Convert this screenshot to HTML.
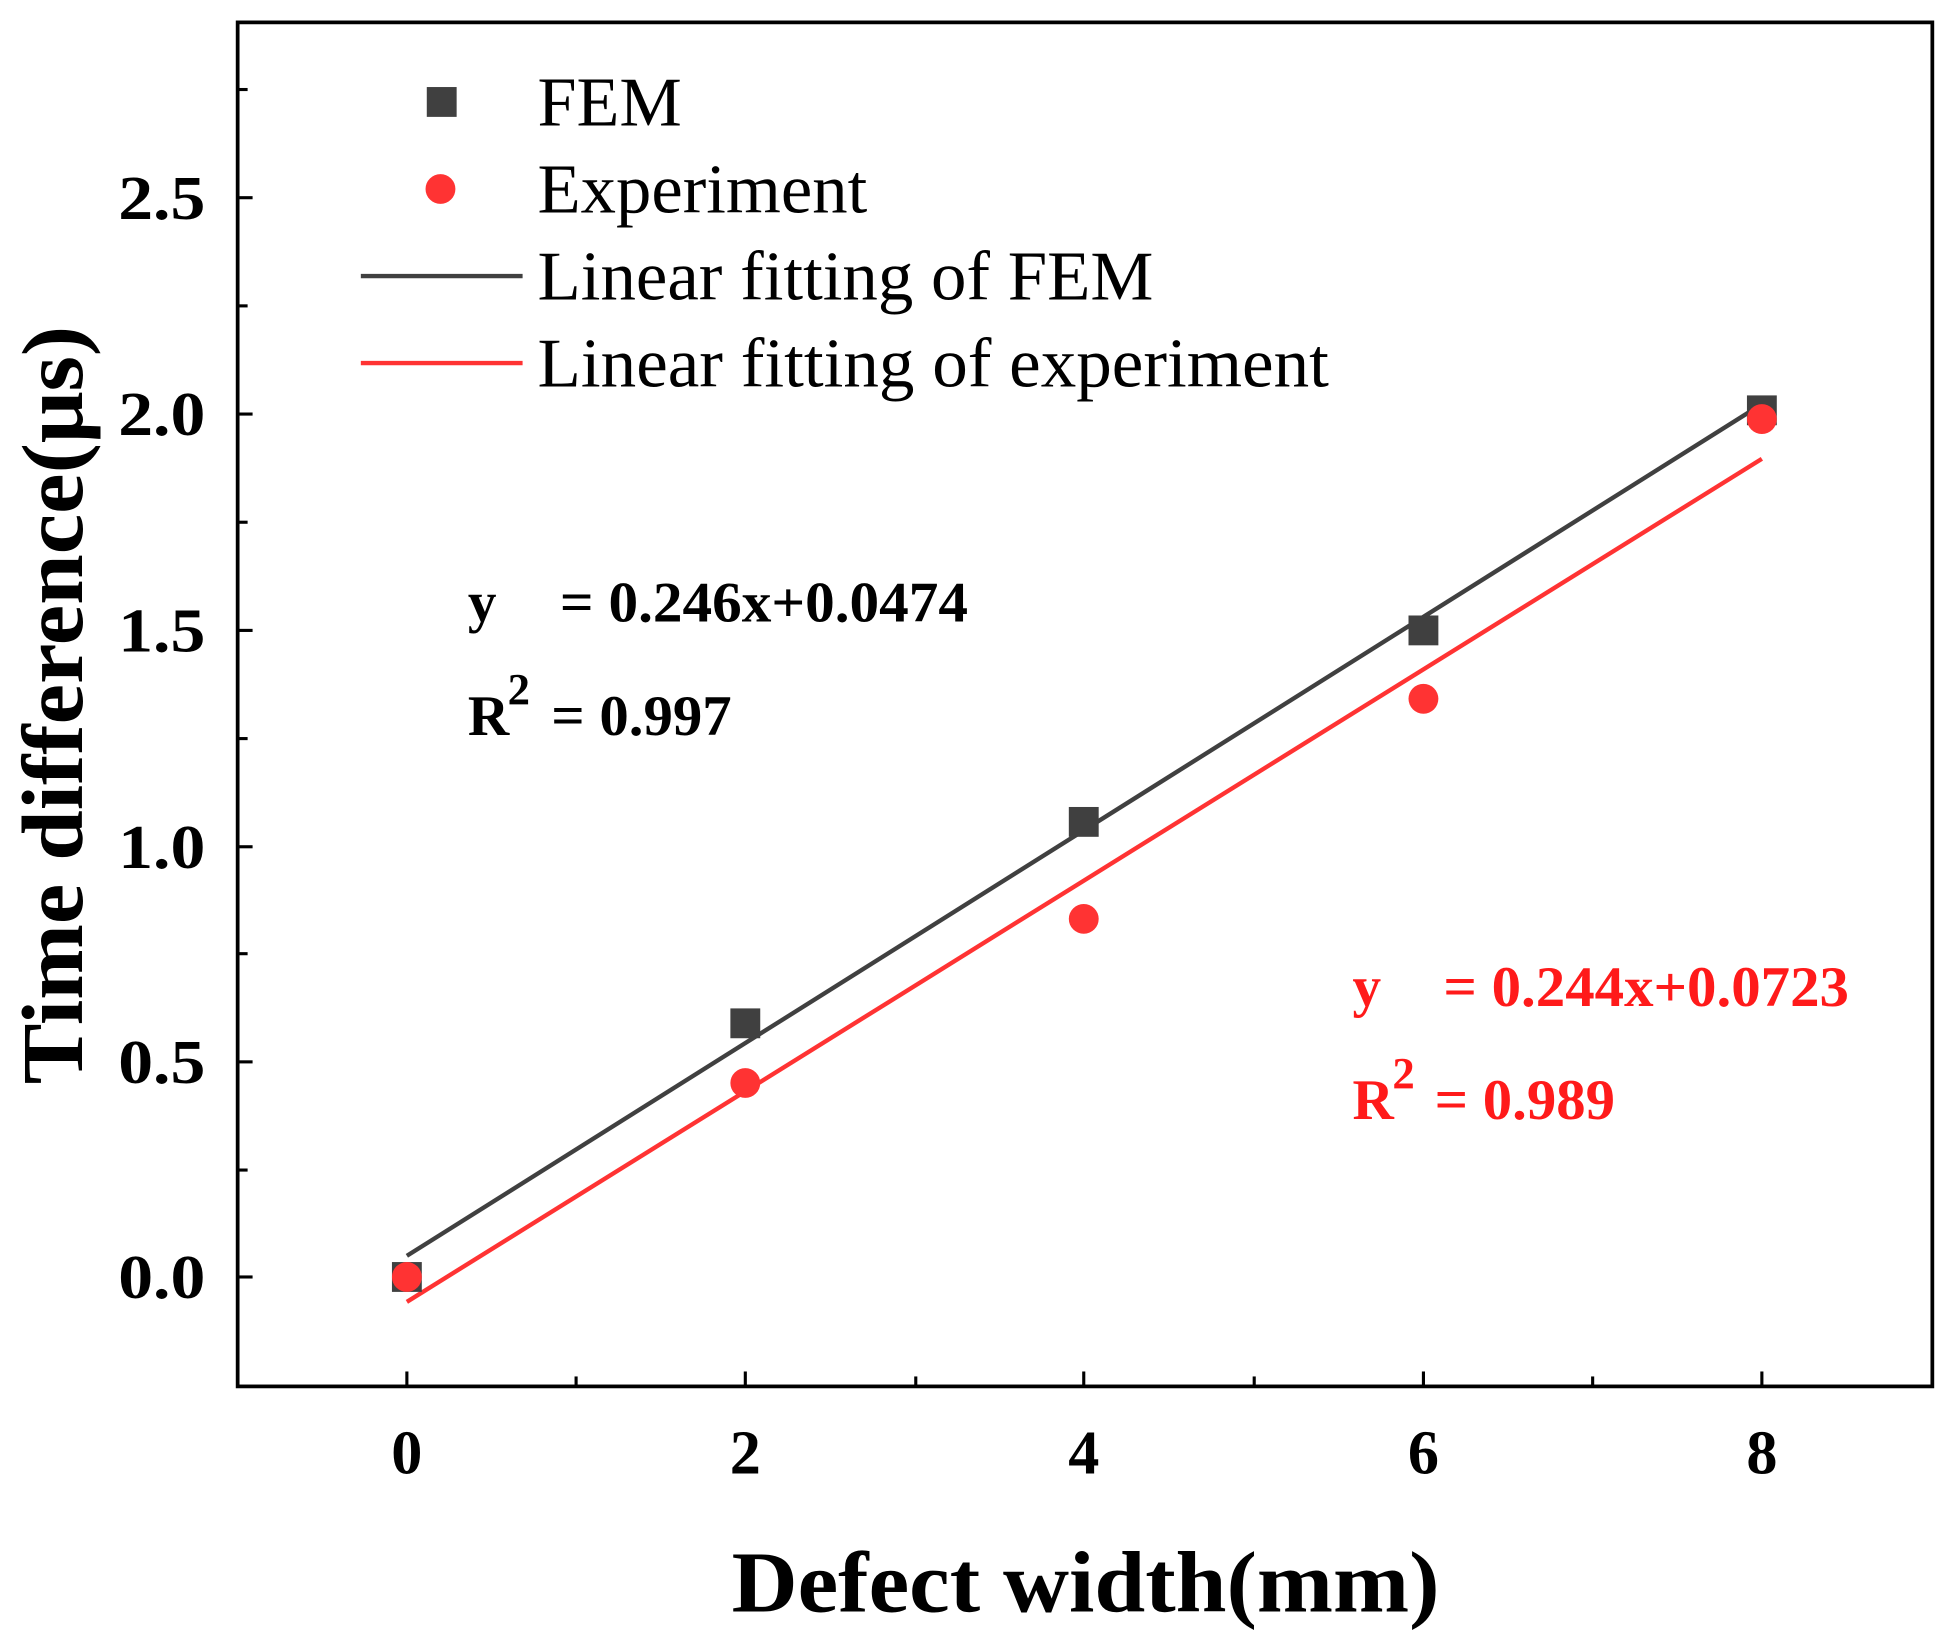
<!DOCTYPE html>
<html><head><meta charset="utf-8"><style>html,body{margin:0;padding:0;background:#fff}svg{display:block}</style></head>
<body>
<svg width="1951" height="1650" viewBox="0 0 1568 1327" preserveAspectRatio="none" xmlns="http://www.w3.org/2000/svg" font-family="Liberation Serif, serif">
<rect width="1568" height="1327" fill="#fff"/>
<rect x="191" y="18" width="1362" height="1097" fill="none" stroke="#000" stroke-width="3"/>
<g stroke="#000" stroke-width="2.5">
<line x1="327" y1="1115" x2="327" y2="1103"/><line x1="463" y1="1115" x2="463" y2="1107"/>
<line x1="599" y1="1115" x2="599" y2="1103"/><line x1="736" y1="1115" x2="736" y2="1107"/>
<line x1="871" y1="1115" x2="871" y2="1103"/><line x1="1008" y1="1115" x2="1008" y2="1107"/>
<line x1="1144" y1="1115" x2="1144" y2="1103"/><line x1="1280" y1="1115" x2="1280" y2="1107"/>
<line x1="1416" y1="1115" x2="1416" y2="1103"/>
<line x1="191" y1="1027" x2="203" y2="1027"/><line x1="191" y1="941" x2="199" y2="941"/>
<line x1="191" y1="854" x2="203" y2="854"/><line x1="191" y1="767" x2="199" y2="767"/>
<line x1="191" y1="681" x2="203" y2="681"/><line x1="191" y1="594" x2="199" y2="594"/>
<line x1="191" y1="507" x2="203" y2="507"/><line x1="191" y1="420" x2="199" y2="420"/>
<line x1="191" y1="333" x2="203" y2="333"/><line x1="191" y1="246" x2="199" y2="246"/>
<line x1="191" y1="159" x2="203" y2="159"/><line x1="191" y1="72" x2="199" y2="72"/>
</g>
<g font-weight="bold" font-size="50">
<text x="95" y="1044" textLength="70" lengthAdjust="spacingAndGlyphs">0.0</text>
<text x="95" y="871" textLength="70" lengthAdjust="spacingAndGlyphs">0.5</text>
<text x="95" y="698" textLength="70" lengthAdjust="spacingAndGlyphs">1.0</text>
<text x="95" y="524" textLength="70" lengthAdjust="spacingAndGlyphs">1.5</text>
<text x="95" y="350" textLength="70" lengthAdjust="spacingAndGlyphs">2.0</text>
<text x="95" y="176" textLength="70" lengthAdjust="spacingAndGlyphs">2.5</text>
</g>
<g font-weight="bold" font-size="50" text-anchor="middle">
<text x="327" y="1185">0</text><text x="599" y="1185">2</text><text x="871" y="1185">4</text>
<text x="1144" y="1185">6</text><text x="1416" y="1185">8</text>
</g>
<text x="588" y="1296" font-weight="bold" font-size="70" textLength="569" lengthAdjust="spacingAndGlyphs">Defect width(mm)</text>
<text transform="translate(66,872) rotate(-90)" font-weight="bold" font-size="70" textLength="610" lengthAdjust="spacingAndGlyphs">Time difference(μs)</text>
<line x1="327" y1="1010" x2="1416" y2="325" stroke="#404040" stroke-width="3.5"/>
<line x1="327" y1="1047" x2="1416" y2="369" stroke="#ff3333" stroke-width="3.5"/>
<g fill="#404040">
<rect x="315" y="1015" width="24" height="24"/><rect x="587" y="811" width="24" height="24"/>
<rect x="859" y="649" width="24" height="24"/><rect x="1132" y="495" width="24" height="24"/>
<rect x="1404" y="318" width="24" height="24"/>
</g>
<g fill="#ff3333">
<circle cx="327" cy="1027" r="12"/><circle cx="599" cy="871" r="12"/><circle cx="871" cy="739" r="12"/>
<circle cx="1144" cy="562" r="12"/><circle cx="1416" cy="337" r="12"/>
</g>
<rect x="343" y="70" width="24" height="24" fill="#404040"/>
<circle cx="354" cy="152" r="12" fill="#ff3333"/>
<line x1="290" y1="222" x2="420" y2="222" stroke="#404040" stroke-width="3.5"/>
<line x1="290" y1="292" x2="420" y2="292" stroke="#ff3333" stroke-width="3.5"/>
<g font-size="56">
<text x="432" y="101" textLength="116" lengthAdjust="spacingAndGlyphs">FEM</text>
<text x="432" y="171" textLength="265" lengthAdjust="spacingAndGlyphs">Experiment</text>
<text x="432" y="241" textLength="495" lengthAdjust="spacingAndGlyphs">Linear fitting of FEM</text>
<text x="432" y="311" textLength="636" lengthAdjust="spacingAndGlyphs">Linear fitting of experiment</text>
</g>
<g font-weight="bold" font-size="46">
<text x="376" y="500">y</text><text x="450" y="500" textLength="328" lengthAdjust="spacingAndGlyphs">= 0.246x+0.0474</text>
<text x="376" y="591">R</text><text x="408" y="566" font-size="36">2</text><text x="443" y="591" textLength="145" lengthAdjust="spacingAndGlyphs">= 0.997</text>
</g>
<g font-weight="bold" font-size="46" fill="#ff1a1a">
<text x="1087" y="809">y</text><text x="1160" y="809" textLength="326" lengthAdjust="spacingAndGlyphs">= 0.244x+0.0723</text>
<text x="1087" y="900">R</text><text x="1119" y="875" font-size="36">2</text><text x="1153" y="900" textLength="145" lengthAdjust="spacingAndGlyphs">= 0.989</text>
</g>
</svg>
</body></html>
